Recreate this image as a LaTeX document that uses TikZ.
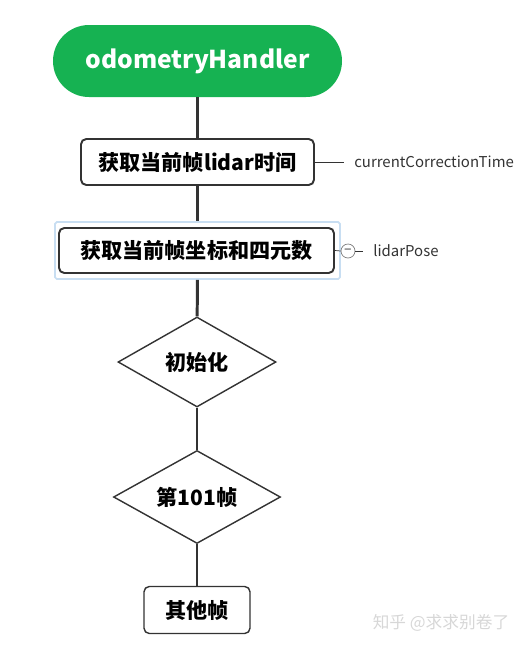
\documentclass[tikz,border=0pt]{standalone}
\usepackage{fontspec}
\setmainfont{Noto Sans CJK SC}
\usetikzlibrary{shapes.geometric}
\definecolor{startgreen}{RGB}{22,178,82}
\definecolor{boxline}{RGB}{51,51,51}
\definecolor{selblue}{RGB}{200,222,242}
\definecolor{markgray}{RGB}{215,215,215}
\begin{document}
\begin{tikzpicture}[
        stepbox/.style={draw=boxline, line width=1.1pt, rounded corners=3pt, fill=white, inner sep=0pt, font=\fontsize{12}{14}\selectfont\bfseries},
        decbox/.style={draw=boxline, line width=0.8pt, diamond, aspect=1.75, inner sep=0pt, fill=white, font=\fontsize{12}{14}\selectfont\bfseries},
        sidelbl/.style={anchor=west, inner sep=0.2cm, font=\fontsize{8.5}{10}\selectfont, text=boxline},
        flow/.style={draw=boxline, line width=1.7pt},
        side/.style={draw=boxline, line width=0.4pt}
    ]
        \useasboundingbox (0,0) rectangle (10.3,-12.92);
        % start node
        \node[fill=startgreen, text=white, rounded corners=0.72cm, minimum width=5.78cm, minimum height=1.44cm, font=\fontsize{14}{17}\selectfont\bfseries] (start) at (3.95,-1.22) {odometryHandler};
        % steps
        \node[stepbox, minimum width=4.66cm, minimum height=0.92cm] (time) at (3.95,-3.24) {获取当前帧lidar时间};
        \node[draw=selblue, line width=1pt, rounded corners=1pt, minimum width=5.7cm, minimum height=1.14cm] (sel) at (3.95,-5.01) {};
        \node[stepbox, minimum width=5.5cm, minimum height=0.9cm] (pose) at (3.93,-5.01) {获取当前帧坐标和四元数};
        \node[decbox, minimum width=3.16cm, minimum height=1.8cm] (init) at (3.94,-7.24) {初始化};
        \node[decbox, minimum width=3.34cm, minimum height=1.86cm] (f101) at (3.94,-9.94) {第101帧};
        \node[stepbox, line width=0.8pt, minimum width=2.12cm, minimum height=0.94cm] (other) at (3.94,-12.2) {其他帧};
        % main line
        \draw[flow] (start) -- (time);
        \draw[flow] (time) -- (sel);
        \draw[flow] (sel) -- (init);
        \draw[flow] (init) -- (f101);
        \draw[flow] (f101) -- (other);
        % side labels
        \node[sidelbl] (timelbl) at (6.88,-3.24) {currentCorrectionTime};
        \draw[side] (time.east) -- (timelbl.west);
        \node[circle, draw=gray, line width=0.4pt, minimum size=0.28cm, inner sep=0pt, font=\fontsize{8}{8}\selectfont, text=boxline] (fold) at (6.96,-5.02) {–};
        \node[sidelbl] (poselbl) at (7.26,-5.02) {lidarPose};
        \draw[side] (pose.east) -- (fold.west);
        \draw[side] (fold.east) -- (poselbl.west);
        % mark
        \node[text=markgray, font=\fontsize{9.5}{11}\selectfont] (mark) at (8.82,-12.46) {知乎 @求求别卷了};
    \end{tikzpicture}
\end{document}
